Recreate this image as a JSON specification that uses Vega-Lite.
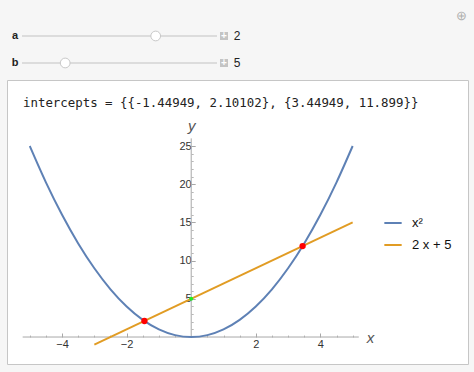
{
  "$schema": "https://vega.github.io/schema/vega-lite/v6.json",
  "background": "#f6f6f6",
  "padding": {"left": 6, "right": 7, "top": 0, "bottom": 9},
  "spacing": 0,
  "config": {
    "view": {"stroke": "#c6c6c6", "fill": "white"},
    "font": "Liberation Sans"
  },
  "datasets": {
    "sliders": [
      {"name": "a", "value": 2, "min": -5, "max": 5},
      {"name": "b", "value": 5, "min": 0, "max": 25}
    ],
    "curves": [
      {"series": "x²", "x": -5, "y": 25},
      {"series": "x²", "x": -4.5, "y": 20.25},
      {"series": "x²", "x": -4, "y": 16},
      {"series": "x²", "x": -3.5, "y": 12.25},
      {"series": "x²", "x": -3, "y": 9},
      {"series": "x²", "x": -2.5, "y": 6.25},
      {"series": "x²", "x": -2, "y": 4},
      {"series": "x²", "x": -1.5, "y": 2.25},
      {"series": "x²", "x": -1, "y": 1},
      {"series": "x²", "x": -0.5, "y": 0.25},
      {"series": "x²", "x": 0, "y": 0},
      {"series": "x²", "x": 0.5, "y": 0.25},
      {"series": "x²", "x": 1, "y": 1},
      {"series": "x²", "x": 1.5, "y": 2.25},
      {"series": "x²", "x": 2, "y": 4},
      {"series": "x²", "x": 2.5, "y": 6.25},
      {"series": "x²", "x": 3, "y": 9},
      {"series": "x²", "x": 3.5, "y": 12.25},
      {"series": "x²", "x": 4, "y": 16},
      {"series": "x²", "x": 4.5, "y": 20.25},
      {"series": "x²", "x": 5, "y": 25},
      {"series": "2 x + 5", "x": -3, "y": -1},
      {"series": "2 x + 5", "x": 5, "y": 15}
    ],
    "axislines": [
      {"axis": "x", "x": -5.22, "x2": 5.19, "y": 0, "y2": 0},
      {"axis": "y", "x": 0, "x2": 0, "y": 0, "y2": 26.0}
    ],
    "marks": [
      {"kind": "intersection", "x": -1.44949, "y": 2.10102},
      {"kind": "intersection", "x": 3.44949, "y": 11.899},
      {"kind": "yintercept", "x": 0, "y": 5}
    ]
  },
  "vconcat": [
    {
      "width": 461,
      "height": 79,
      "view": {"stroke": null, "fill": null},
      "title": {"text": "⊕", "anchor": "end", "orient": "top", "offset": -29, "baseline": "middle", "fontSize": 13, "color": "#b0b0b0", "fontWeight": "normal", "dx": -1},
      "data": {"name": "sliders"},
      "transform": [{"calculate": "(datum.value - datum.min) / (datum.max - datum.min)", "as": "frac"}],
      "encoding": {
        "y": {"field": "name", "type": "nominal", "scale": {"type": "point", "domain": ["a", "b"], "padding": 0.963, "align": 0.692}, "axis": null}
      },
      "layer": [
        {
          "mark": {"type": "rule", "color": "#dcdcdc", "strokeWidth": 2, "xOffset": -7, "x2Offset": 7},
          "encoding": {
            "x": {"datum": 0, "type": "quantitative", "scale": {"domain": [-0.1215, 2.4254], "nice": false, "zero": false}, "axis": null},
            "x2": {"datum": 1}
          }
        },
        {
          "mark": {"type": "text", "dx": -14, "fontSize": 11, "fontWeight": "bold", "color": "#222"},
          "encoding": {"x": {"datum": 0, "type": "quantitative"}, "text": {"field": "name"}}
        },
        {
          "mark": {"type": "point", "shape": "circle", "filled": true, "fill": "white", "stroke": "#c8c8c8", "strokeWidth": 1, "size": 95, "opacity": 1},
          "encoding": {"x": {"field": "frac", "type": "quantitative"}}
        },
        {
          "mark": {"type": "point", "shape": "square", "filled": true, "color": "#c4c4c4", "size": 64, "opacity": 1, "xOffset": 14},
          "encoding": {"x": {"datum": 1, "type": "quantitative"}}
        },
        {
          "mark": {"type": "text", "text": "+", "color": "white", "fontSize": 10, "fontWeight": "bold", "xOffset": 14, "dy": 0},
          "encoding": {"x": {"datum": 1, "type": "quantitative"}}
        },
        {
          "mark": {"type": "text", "dx": 27, "fontSize": 12, "color": "#222"},
          "encoding": {"x": {"datum": 1, "type": "quantitative"}, "text": {"field": "value"}}
        }
      ]
    },
    {
      "width": 461,
      "height": 284,
      "title": {"text": "intercepts = {{-1.44949, 2.10102}, {3.44949, 11.899}}", "anchor": "start", "orient": "top", "offset": -35, "baseline": "middle", "dx": 16, "font": "DejaVu Sans Mono", "fontSize": 12.4, "fontWeight": "normal", "color": "#222"},
      "resolve": {"axis": {"x": "independent", "y": "independent"}},
      "layer": [
        {
          "data": {"name": "axislines"},
          "mark": {"type": "rule", "color": "#a8a8a8", "strokeWidth": 1},
          "encoding": {
            "x": {"field": "x", "type": "quantitative", "scale": {"domain": [-5.705, 8.572], "nice": false, "zero": false},
              "axis": {"orient": "bottom", "values": [-4, -2, 2, 4], "offset": -27, "domain": false, "grid": false, "tickSize": -4, "tickColor": "#a8a8a8", "labelPadding": 5, "labelFontSize": 11, "labelColor": "#333", "labelFont": "Liberation Sans",
                "title": "x", "titleX": 363, "titleY": 0, "titleBaseline": "middle", "titleAlign": "center", "titleFontStyle": "italic", "titleFontWeight": "normal", "titleFontSize": 15, "titleColor": "#555", "titleFont": "Liberation Sans"}},
            "x2": {"field": "x2"},
            "y": {"field": "y", "type": "quantitative", "scale": {"domain": [-3.53, 33.64], "nice": false, "zero": false},
              "axis": {"orient": "left", "values": [5, 10, 15, 20, 25], "offset": -184.2, "domain": false, "grid": false, "tickSize": -4, "tickColor": "#a8a8a8", "labelPadding": 4, "labelFontSize": 11, "labelColor": "#333", "labelFont": "Liberation Sans",
                "title": "y", "titleX": 0, "titleY": 45, "titleAngle": 0, "titleBaseline": "middle", "titleAlign": "center", "titleFontStyle": "italic", "titleFontWeight": "normal", "titleFontSize": 15, "titleColor": "#555", "titleFont": "Liberation Sans"}},
            "y2": {"field": "y2"}
          }
        },
        {
          "data": {"name": "curves"},
          "mark": {"type": "line", "strokeWidth": 2, "interpolate": "monotone", "clip": true},
          "encoding": {
            "x": {"field": "x", "type": "quantitative", "axis": null},
            "y": {"field": "y", "type": "quantitative", "axis": null},
            "color": {"field": "series", "type": "nominal", "scale": {"domain": ["x²", "2 x + 5"], "range": ["#5e81b5", "#e19c24"]},
              "legend": {"title": null, "orient": "none", "legendX": 376, "legendY": 213, "symbolType": "stroke", "symbolSize": 300, "symbolStrokeWidth": 2, "labelFontSize": 13, "labelFont": "Liberation Sans", "labelColor": "#111", "rowPadding": 5, "labelOffset": 9}}
          }
        },
        {
          "data": {"name": "marks"},
          "transform": [{"filter": "datum.kind == 'intersection'"}],
          "mark": {"type": "point", "shape": "circle", "filled": true, "color": "#ff0000", "size": 40, "opacity": 1},
          "encoding": {
            "x": {"field": "x", "type": "quantitative",
              "axis": {"orient": "bottom", "values": [-5, -4.5, -3.5, -3, -2.5, -1.5, -1, -0.5, 0.5, 1, 1.5, 2.5, 3, 3.5, 4.5, 5], "offset": -27, "domain": false, "grid": false, "labels": false, "tickSize": -2, "tickColor": "#b8b8b8", "title": null}},
            "y": {"field": "y", "type": "quantitative",
              "axis": {"orient": "left", "values": [1, 2, 3, 4, 6, 7, 8, 9, 11, 12, 13, 14, 16, 17, 18, 19, 21, 22, 23, 24], "offset": -184.2, "domain": false, "grid": false, "labels": false, "tickSize": -2, "tickColor": "#b8b8b8", "title": null}}
          }
        },
        {
          "data": {"name": "marks"},
          "transform": [{"filter": "datum.kind == 'yintercept'"}],
          "mark": {"type": "point", "shape": "circle", "filled": true, "color": "#22ee22", "size": 16, "opacity": 1},
          "encoding": {"x": {"field": "x", "type": "quantitative", "axis": null}, "y": {"field": "y", "type": "quantitative", "axis": null}}
        }
      ]
    }
  ]
}
